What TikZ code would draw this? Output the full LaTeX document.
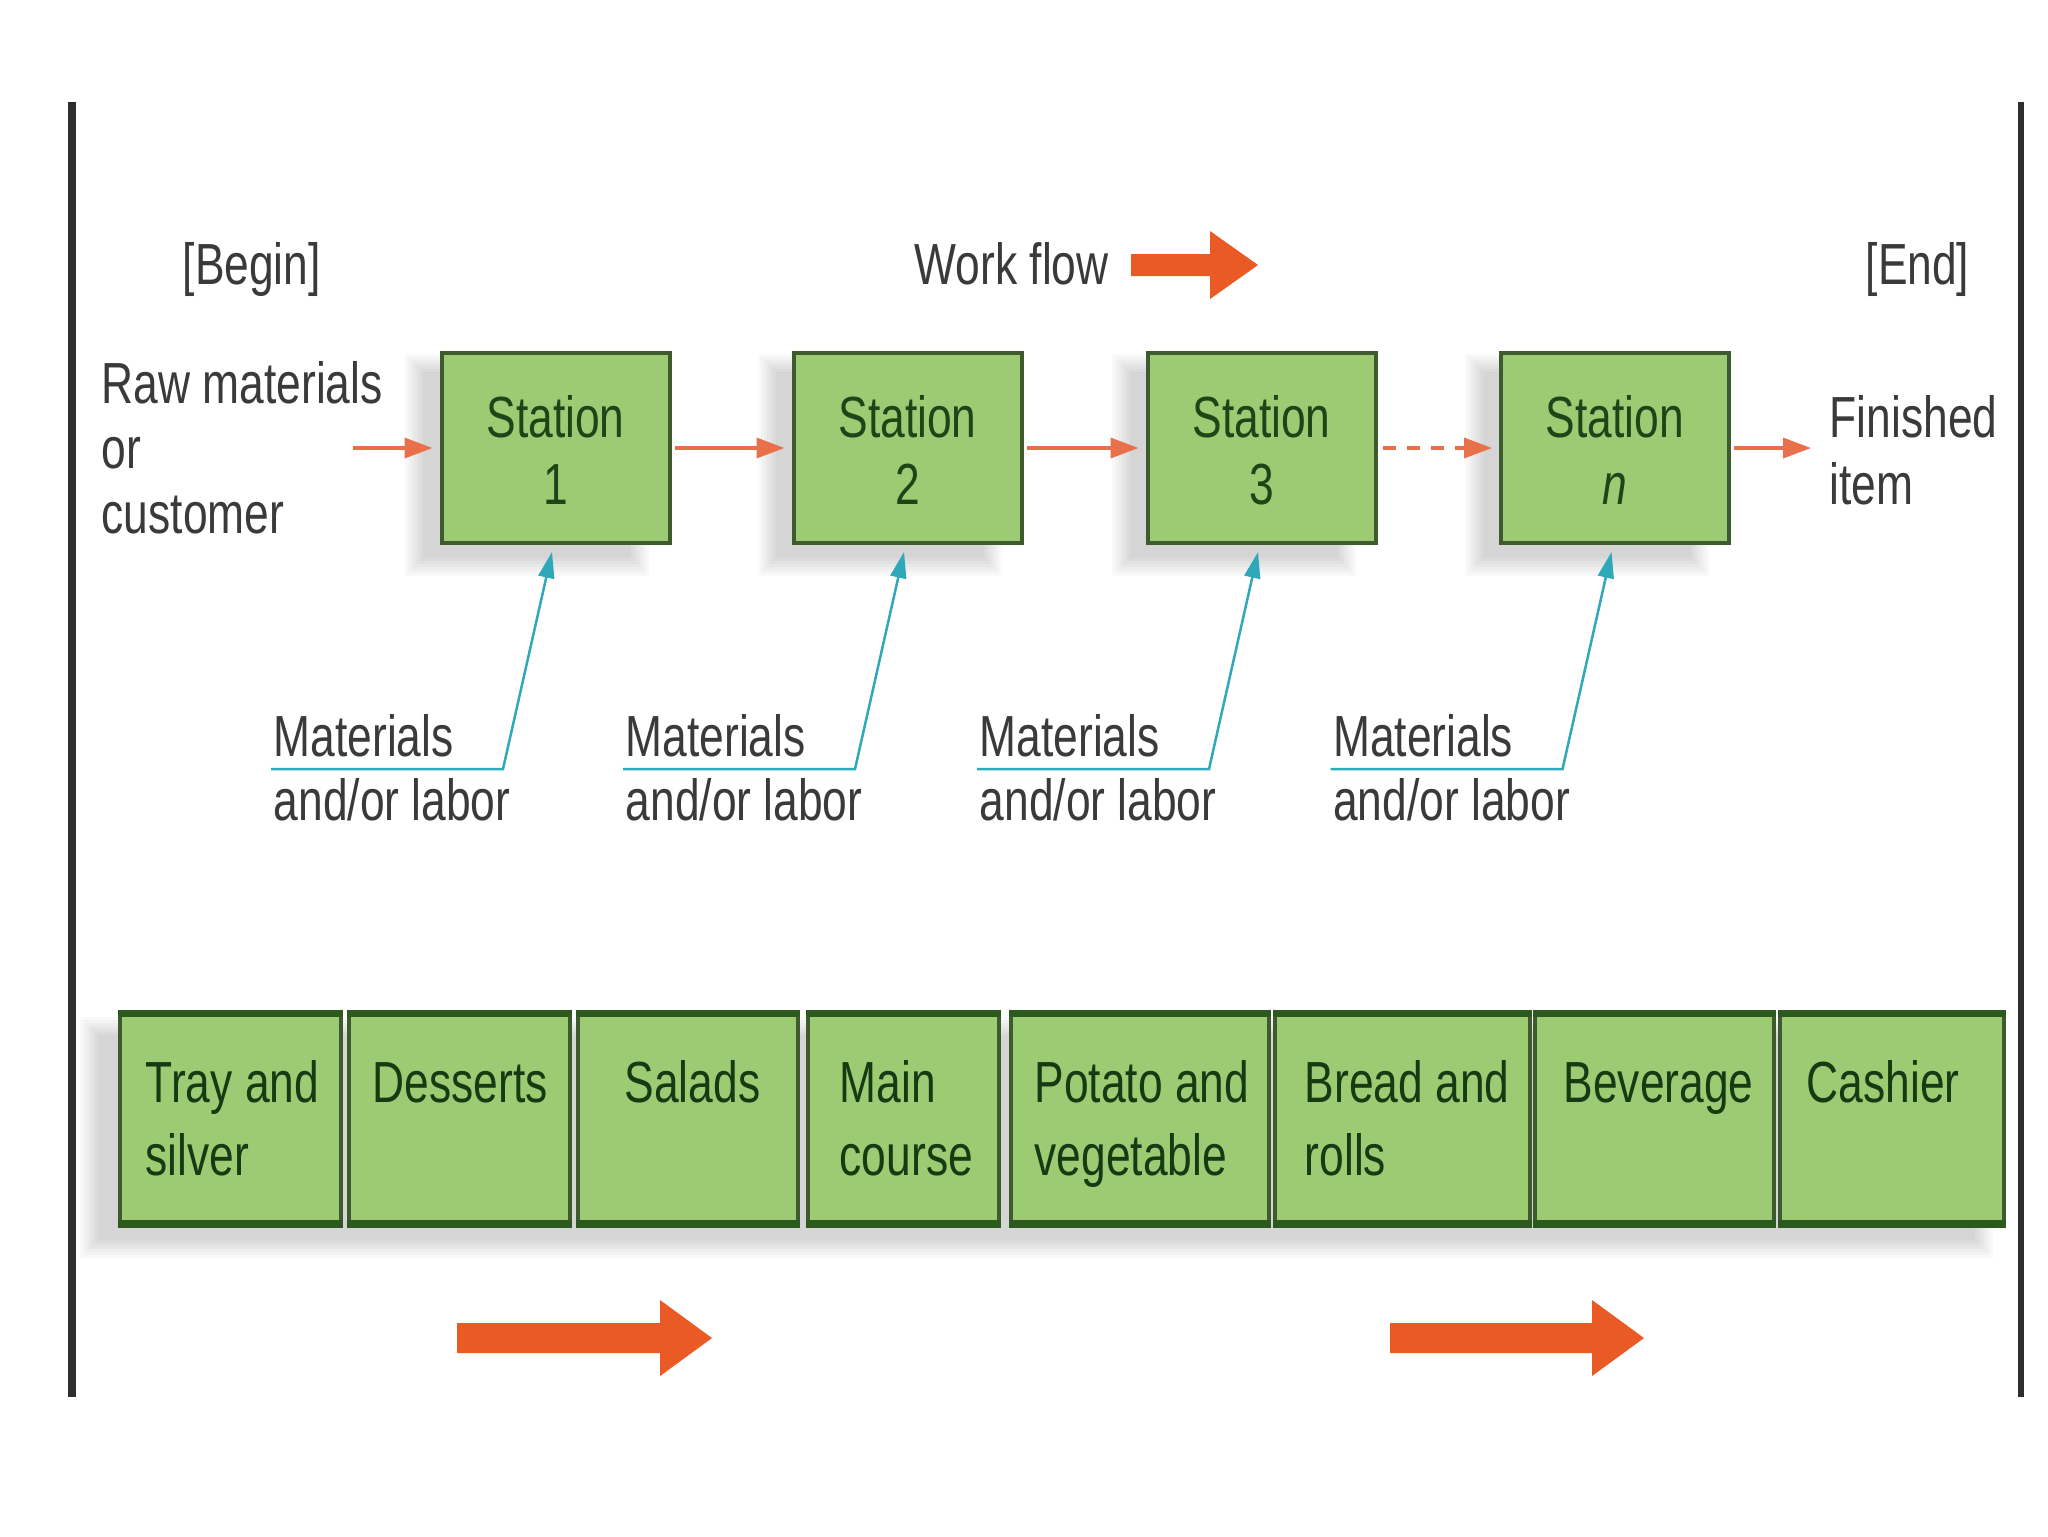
\documentclass[tikz,border=0pt]{standalone}
\usepackage{fontspec}
\setmainfont{Liberation Sans}[FakeStretch=0.765]
\usetikzlibrary{arrows.meta}
\definecolor{boxgreen}{HTML}{9CCB74}
\definecolor{boxedge}{HTML}{3E5B30}
\definecolor{darkgreen}{HTML}{2C5A1E}
\definecolor{txtgreen}{HTML}{1E4418}
\definecolor{btxtgreen}{HTML}{173A12}
\definecolor{txtgray}{HTML}{3A3A3A}
\definecolor{flow}{HTML}{EA5A24}
\definecolor{thinorange}{HTML}{E8704A}
\definecolor{cyanline}{HTML}{2FA8BA}
\definecolor{barcol}{HTML}{2E2E2E}
\newcommand\mysoftshadow[4]{%
  \foreach \k in {0,...,6}{\fill[black,opacity=0.022] (#1-3*\k,#2-3*\k) rectangle (#3+3*\k,#4+3*\k);}}
\begin{document}
\begin{tikzpicture}[x=0.1mm,y=-0.1mm,
  lbl/.style={anchor=base west,inner sep=0pt,text=txtgray,font=\fontsize{16.5}{19}\selectfont},
  sttxt/.style={anchor=base,inner sep=0pt,text=txtgreen,font=\fontsize{16.5}{19}\selectfont},
  btxt/.style={anchor=base west,inner sep=0pt,text=btxtgreen,font=\fontsize{16.5}{19}\selectfont},
  station/.style={draw=boxedge,fill=boxgreen,line width=0.4mm,minimum width=22.8mm,minimum height=19mm,inner sep=0pt},
  bbox/.style={draw=boxedge,fill=boxgreen,line width=0.35mm,minimum height=20.7mm,inner sep=0pt},
  flowline/.style={draw=thinorange,line width=0.35mm,-{Triangle[length=2.8mm,width=2mm]}},
  matline/.style={draw=cyanline,line width=0.25mm,-{Triangle[length=2.6mm,width=1.6mm]}}]
\useasboundingbox (0,0) rectangle (2048,1536);
\fill[white] (0,0) rectangle (2048,1536);
% side bars
\draw[barcol,line width=0.8mm] (72,102) -- (72,1397);
\draw[barcol,line width=0.6mm] (2021,102) -- (2021,1397);
% header
\node[lbl] (begin) at (182,284) {[Begin]};
\node[lbl] (wf) at (914,284) {Work flow};
\node[lbl] (end) at (1865,284) {[End]};
\fill[flow] (1131,254) -- (1210,254) -- (1210,231) -- (1258,265) -- (1210,299) -- (1210,276) -- (1131,276) -- cycle;
% station shadows
\foreach \a in {441,794,1148,1501}{\mysoftshadow{\a-18}{372}{\a+190}{558}}
% stations
\node[station] (s1) at (555.5,448) {};
\node[station] (s2) at (907.5,448) {};
\node[station] (s3) at (1261.5,448) {};
\node[station] (sn) at (1615,448) {};
\node[sttxt] (s1a) at (555.5,437) {Station};
\node[sttxt] (s1b) at (555.5,504) {1};
\node[sttxt] (s2a) at (907.5,437) {Station};
\node[sttxt] (s2b) at (907.5,504) {2};
\node[sttxt] (s3a) at (1261.5,437) {Station};
\node[sttxt] (s3b) at (1261.5,504) {3};
\node[sttxt] (sna) at (1615,437) {Station};
\node[sttxt] (snb) at (1615,504) {\itshape n};
% raw / finished
\node[lbl] (raw1) at (101,403) {Raw materials};
\node[lbl] (raw2) at (101,468) {or};
\node[lbl] (raw3) at (101,533) {customer};
\node[lbl] (fin1) at (1829,437) {Finished};
\node[lbl] (fin2) at (1829,504) {item};
\coordinate (rawend) at (353,448);
\coordinate (finend) at (1811,448);
\draw[flowline,shorten >=0.7mm] (rawend) -- (s1.west);
\draw[flowline,shorten <=0.3mm,shorten >=0.7mm] (s1.east) -- (s2.west);
\draw[flowline,shorten <=0.3mm,shorten >=0.7mm] (s2.east) -- (s3.west);
\draw[flowline,shorten <=0.5mm,shorten >=0.7mm,dash pattern=on 1.3mm off 1.1mm] (s3.east) -- (sn.west);
\draw[flowline,shorten <=0.3mm] (sn.east) -- (finend);
% materials
\foreach \d/\s/\i in {0/s1/1,352/s2/2,706/s3/3,1059.5/sn/4}{
  \node[lbl] (m\i a) at (273+\d,756) {Materials};
  \node[lbl] (m\i b) at (273+\d,820) {and/or labor};
  \coordinate (u\i a) at (271+\d,769);
  \coordinate (u\i b) at (503+\d,769);
  \draw[matline] (u\i a) -- (u\i b) -- ([xshift=-0.35mm,yshift=-0.7mm]\s.south);
}
% bottom row
\mysoftshadow{98}{1035}{1975}{1240}
\foreach \n/\a/\b in {b1/120/341,b2/349/570,b3/578/798,b4/808/999,b5/1011/1269,b6/1275/1530,b7/1535/1774,b8/1780/2004}{
  \node[bbox,minimum width={(\b-\a)*0.1mm}] (\n) at ({(\a+\b)/2},1118.5) {};
  \draw[darkgreen,line width=0.75mm] (\n.north west) -- (\n.north east);
  \draw[darkgreen,line width=0.75mm] (\n.south west) -- (\n.south east);
}
\node[btxt] (t1a) at (145,1102) {Tray and};
\node[btxt] (t1b) at (145,1175) {silver};
\node[btxt] (t2a) at (372,1102) {Desserts};
\node[btxt] (t3a) at (624,1102) {Salads};
\node[btxt] (t4a) at (839,1102) {Main};
\node[btxt] (t4b) at (839,1175) {course};
\node[btxt] (t5a) at (1034,1102) {Potato and};
\node[btxt] (t5b) at (1034,1175) {vegetable};
\node[btxt] (t6a) at (1304,1102) {Bread and};
\node[btxt] (t6b) at (1304,1175) {rolls};
\node[btxt] (t7a) at (1563,1102) {Beverage};
\node[btxt] (t8a) at (1806,1102) {Cashier};
% bottom arrows
\fill[flow] (457,1323) -- (660,1323) -- (660,1300) -- (712,1338) -- (660,1376) -- (660,1353) -- (457,1353) -- cycle;
\fill[flow] (1390,1323) -- (1592,1323) -- (1592,1300) -- (1644,1338) -- (1592,1376) -- (1592,1353) -- (1390,1353) -- cycle;
\end{tikzpicture}
\end{document}
